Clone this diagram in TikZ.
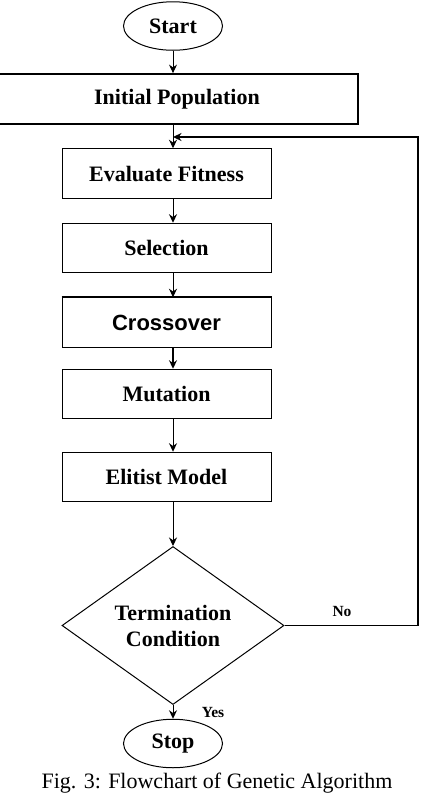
\documentclass[tikz,border=0pt]{standalone}
\usepackage{fontspec}
\setmainfont{Liberation Serif}
\newfontfamily\arialfont{Liberation Sans}
\usetikzlibrary{shapes.geometric,arrows.meta}
\begin{document}
\begin{tikzpicture}[x=1pt,y=-1pt,
  box/.style={draw,line width=1pt,rectangle,minimum width=209pt,minimum height=49.5pt,inner sep=0pt,font=\fontsize{22}{24}\selectfont\bfseries},
  termnode/.style={draw,line width=1pt,ellipse,minimum width=99pt,minimum height=48.5pt,inner sep=0pt,font=\fontsize{22}{24}\selectfont\bfseries},
  decision/.style={draw,line width=1pt,diamond,minimum width=222pt,minimum height=135pt,inner sep=0pt,align=center,font=\fontsize{22}{26}\selectfont\bfseries},
  arr/.style={line width=1pt,-{Stealth[length=8.5pt,width=8pt]}},
  lbl/.style={inner sep=0pt,font=\fontsize{15.5}{18}\selectfont\bfseries}
]
\useasboundingbox (0,0) rectangle (424,796);
\node[termnode] (start) at (173,26) {Start};
\node[box,line width=1.8pt,minimum width=362pt,minimum height=50pt] (init) at (177,99) {Initial Population};
\node[box] (eval) at (166.5,173.5) {Evaluate Fitness};
\node[box] (sel) at (166.5,248) {Selection};
\node[box,font=\fontsize{22}{24}\selectfont\bfseries\arialfont] (cross) at (166.5,322.5) {Crossover};
\node[box] (mut) at (166.5,394) {Mutation};
\node[box] (elit) at (166.5,477) {Elitist Model};
\node[decision] (cond) at (173,625.5) {Termination\\Condition};
\node[termnode] (stop) at (173,743.5) {Stop};
\draw[line width=1.8pt] (cross.north west) -- (cross.north east);
\draw[arr] (start.south) -- (init.north -| start);
\draw[arr] (init.south -| start) -- (eval.north -| start);
\draw[arr] (eval.south -| start) -- (sel.north -| start);
\draw[arr] (sel.south -| start) -- (cross.north -| start);
\draw[arr,line width=1.4pt] (cross.south -| start) -- (mut.north -| start);
\draw[arr] (mut.south -| start) -- (elit.north -| start);
\draw[arr] (elit.south -| start) -- (cond.north);
\draw[arr] (cond.south) -- (stop.north);
\coordinate (loopR) at (418,137);
\draw[arr,line width=1.3pt] (cond.east) -| (loopR) -- (loopR -| start);
\node[lbl] (no) at (342,611) {No};
\node[lbl] (yes) at (213,712) {Yes};
\node[inner sep=0pt,font=\fontsize{22}{26}\selectfont] (cap) at (217,783) {Fig. 3: Flowchart of Genetic Algorithm};
\end{tikzpicture}
\end{document}
